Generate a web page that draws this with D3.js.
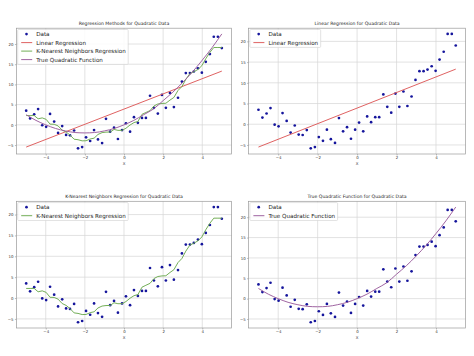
<!DOCTYPE html>
<html>
<head>
<meta charset="utf-8">
<script src="https://cdn.jsdelivr.net/npm/d3@7"></script>
<style>
  html, body { margin: 0; padding: 0; background: #fff; }
  svg { display: block; font-family: "DejaVu Sans", sans-serif; }
</style>
</head>
<body>
<svg id="chart" width="474" height="356"></svg>
<script>
// ---------------- data ----------------
const dataX = [-5.00, -4.80, -4.59, -4.39, -4.18, -3.98, -3.78, -3.57, -3.37, -3.16,
               -2.96, -2.76, -2.55, -2.35, -2.14, -1.94, -1.73, -1.53, -1.33, -1.12,
               -0.92, -0.71, -0.51, -0.31, -0.10, 0.10, 0.31, 0.51, 0.71, 0.92,
               1.12, 1.33, 1.53, 1.73, 1.94, 2.14, 2.35, 2.55, 2.76, 2.96,
               3.16, 3.37, 3.57, 3.78, 3.98, 4.18, 4.39, 4.59, 4.80, 5.00];
const dataY = [3.5, 1.6, 2.6, 3.9, -0.1, -0.5, 2.7, 0.8, -2.0, -0.3,
               -2.5, -2.6, -1.4, -5.8, -5.5, -3.1, -4.0, -1.3, -3.6, -4.5,
               1.5, -1.7, -0.7, -3.5, -1.3, 0.4, -1.7, 1.9, 0.5, 1.7,
               1.7, 7.2, 4.2, 2.8, 7.4, 4.2, 7.9, 4.4, 6.7, 10.7,
               12.8, 12.8, 13.2, 14.0, 12.9, 15.6, 17.5, 21.8, 21.8, 19.0];
const linearX = [-5.0, 5.0];
const linearY = [-5.5, 13.3];
const knnY = [2.3, 2.3, 2.3, 1.5, 1.72, 1.36, 0.18, 0.14, -0.26, -1.32,
              -1.76, -2.52, -3.56, -3.68, -3.96, -3.94, -3.5, -3.3, -2.38, -1.92,
              -1.8, -1.78, -1.14, -1.36, -1.36, -0.84, -0.04, 0.56, 0.82, 2.6,
              3.06, 3.52, 4.66, 5.16, 5.3, 5.34, 6.12, 6.78, 8.5, 9.48,
              11.24, 12.7, 13.14, 13.7, 14.64, 16.36, 17.92, 19.14, 19.14, 19.14];
const quadX = [-5, -4.5, -4, -3.5, -3, -2.5, -2, -1.5, -1, -0.5, 0,
               0.5, 1, 1.5, 2, 2.5, 3, 3.5, 4, 4.5, 5];
const quadY = [2.5, 1.1, 0.0, -0.9, -1.5, -1.9, -2.0, -1.9, -1.5, -0.9, 0.0,
               1.1, 2.5, 3.9, 6.0, 8.1, 10.5, 13.1, 16.0, 19.1, 22.5];
const xTicks = [-4, -2, 0, 2, 4];
const yTicks = [-5, 0, 5, 10, 15, 20];
const titles = ["Regression Methods for Quadratic Data",
                "Linear Regression for Quadratic Data",
                "K-Nearest Neighbors Regression for Quadratic Data",
                "True Quadratic Function for Quadratic Data"];
const seriesNames = ["Data", "Linear Regression", "K-Nearest Neighbors Regression", "True Quadratic Function"];
const xLabel = "X";

// ---------------- styles / layout ----------------
const colors = { data: "#15159c", linear: "#dd5a5a", knn: "#6caa4e", quad: "#9a5c9c" };
const svg = d3.select("#chart");

const series = {
  linear: { name: seriesNames[1], pts: linearX.map((x, i) => [x, linearY[i]]), color: colors.linear, curve: d3.curveLinear },
  knn:    { name: seriesNames[2], pts: dataX.map((x, i) => [x, knnY[i]]),     color: colors.knn,    curve: d3.curveLinear },
  quad:   { name: seriesNames[3], pts: quadX.map((x, i) => [x, quadY[i]]),     color: colors.quad,   curve: d3.curveMonotoneX }
};

const cols = [{ l: 16.4, r: 231.6 }, { l: 248.6, r: 465.6 }];
const rows = [{ t: 28.2, b: 154 }, { t: 201.3, b: 328 }];

const panels = [
  { col: 0, row: 0, title: titles[0], lines: ["linear", "knn", "quad"] },
  { col: 1, row: 0, title: titles[1], lines: ["linear"] },
  { col: 0, row: 1, title: titles[2], lines: ["knn"] },
  { col: 1, row: 1, title: titles[3], lines: ["quad"] }
];

function padded(ext) {
  const m = (ext[1] - ext[0]) * 0.05;
  return [ext[0] - m, ext[1] + m];
}

panels.forEach(p => {
  const L = cols[p.col].l, R = cols[p.col].r, T = rows[p.row].t, B = rows[p.row].b;
  const allY = dataY.concat(...p.lines.map(k => series[k].pts.map(d => d[1])));
  const allX = dataX.concat(...p.lines.map(k => series[k].pts.map(d => d[0])));
  const x = d3.scaleLinear().domain(padded(d3.extent(allX))).range([L, R]);
  const y = d3.scaleLinear().domain(padded(d3.extent(allY))).range([B, T]);

  const g = svg.append("g");

  // grid
  g.append("g").selectAll("line").data(xTicks).join("line")
    .attr("x1", d => x(d)).attr("x2", d => x(d)).attr("y1", T).attr("y2", B)
    .attr("stroke", "#d6d6d6").attr("stroke-width", 0.7);
  g.append("g").selectAll("line").data(yTicks).join("line")
    .attr("x1", L).attr("x2", R).attr("y1", d => y(d)).attr("y2", d => y(d))
    .attr("stroke", "#d6d6d6").attr("stroke-width", 0.7);

  // axes via d3
  const xa = g.append("g").attr("transform", `translate(0,${B})`)
    .call(d3.axisBottom(x).tickValues(xTicks).tickSize(1.5).tickPadding(1.2).tickFormat(d => d3.format("d")(d).replace("-", "\u2212")));
  const ya = g.append("g").attr("transform", `translate(${L},0)`)
    .call(d3.axisLeft(y).tickValues(yTicks).tickSize(1.5).tickPadding(1.4).tickFormat(d => d3.format("d")(d).replace("-", "\u2212")));
  [xa, ya].forEach(a => {
    a.select(".domain").remove();
    a.selectAll(".tick line").attr("stroke", "#777").attr("stroke-width", 0.5);
    a.selectAll(".tick text").attr("font-size", 3.9).attr("fill", "#333").attr("font-family", "DejaVu Sans");
  });

  // frame
  g.append("rect").attr("x", L).attr("y", T).attr("width", R - L).attr("height", B - T)
    .attr("fill", "none").attr("stroke", "#9a9a9a").attr("stroke-width", 0.7);

  // data points
  g.append("g").selectAll("circle").data(dataX.map((xv, i) => [xv, dataY[i]])).join("circle")
    .attr("cx", d => x(d[0])).attr("cy", d => y(d[1])).attr("r", 1.35)
    .attr("fill", colors.data);

  // lines
  p.lines.forEach(k => {
    const s = series[k];
    g.append("path").datum(s.pts)
      .attr("d", d3.line().x(d => x(d[0])).y(d => y(d[1])).curve(s.curve))
      .attr("fill", "none").attr("stroke", s.color).attr("stroke-width", 0.95);
  });

  // title
  g.append("text").attr("x", (L + R) / 2).attr("y", T - 3)
    .attr("text-anchor", "middle").attr("font-size", 4.6).attr("fill", "#222").text(p.title);
  // x label
  g.append("text").attr("x", (L + R) / 2).attr("y", B + 11.2)
    .attr("text-anchor", "middle").attr("font-size", 3.9).attr("fill", "#333").text(xLabel);

  // legend
  const entries = [{ type: "dot", name: seriesNames[0], color: colors.data }]
    .concat(p.lines.map(k => ({ type: "line", name: series[k].name, color: series[k].color })));
  const lx = L + 1.3, ly = T + 1.3, step = 8.5, fs = 5.6;
  const lg = g.append("g");
  const box = lg.append("rect").attr("x", lx).attr("y", ly).attr("rx", 1).attr("ry", 1)
    .attr("fill", "#fff").attr("fill-opacity", 0.85).attr("stroke", "#d0d0d0").attr("stroke-width", 0.6);
  let maxW = 0;
  entries.forEach((e, i) => {
    const cy = ly + 4.6 + i * step;
    if (e.type === "dot") {
      lg.append("circle").attr("cx", lx + 8.8).attr("cy", cy).attr("r", 1.35).attr("fill", e.color);
    } else {
      lg.append("line").attr("x1", lx + 3.5).attr("x2", lx + 14.5).attr("y1", cy).attr("y2", cy)
        .attr("stroke", e.color).attr("stroke-width", 0.95);
    }
    const t = lg.append("text").attr("x", lx + 18.5).attr("y", cy).attr("dy", "0.36em")
      .attr("font-size", fs).attr("fill", "#222").text(e.name);
    maxW = Math.max(maxW, t.node().getComputedTextLength());
  });
  box.attr("width", maxW + 21).attr("height", (entries.length - 1) * step + 9.4);
});
</script>
</body>
</html>
